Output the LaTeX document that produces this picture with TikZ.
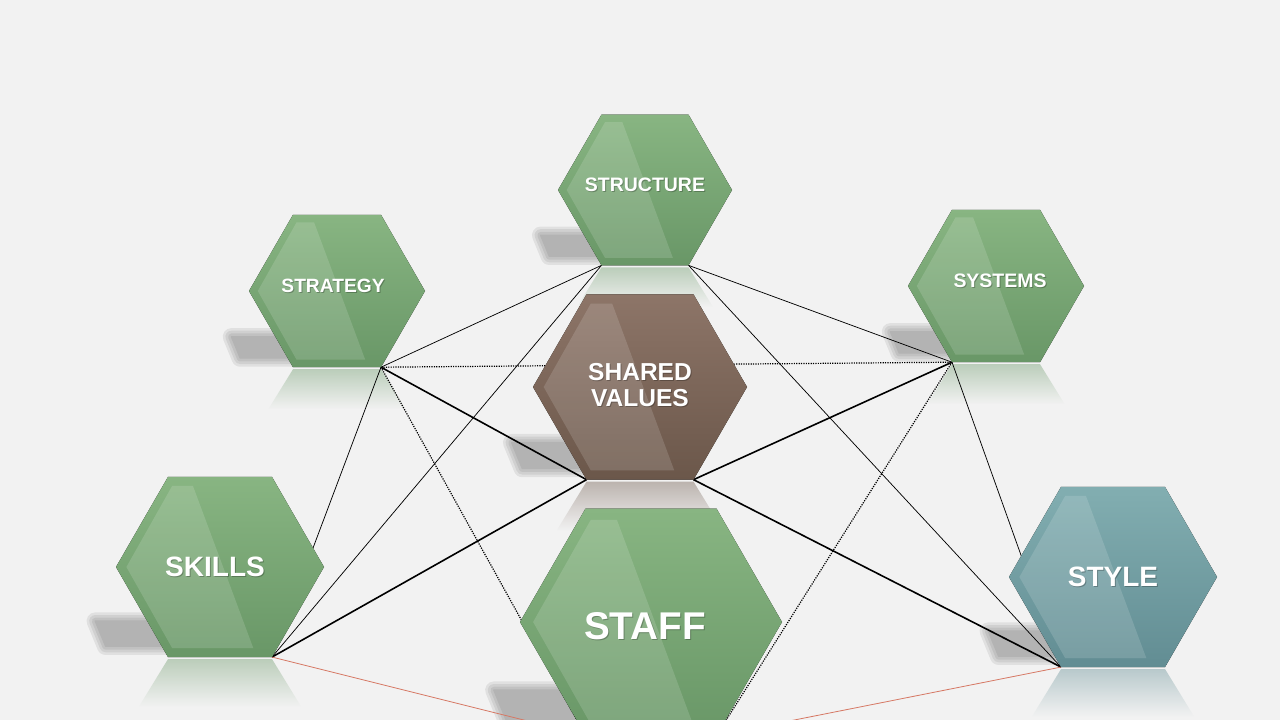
\documentclass[tikz,border=0pt]{standalone}
\usepackage{fontspec}
\setmainfont{Liberation Sans}
\usetikzlibrary{calc,fadings}
\definecolor{bg}{HTML}{F2F2F2}
\definecolor{gTop}{HTML}{88B582}
\definecolor{gBot}{HTML}{699767}
\definecolor{bTop}{HTML}{8D7568}
\definecolor{bBot}{HTML}{6B574A}
\definecolor{tTop}{HTML}{82AEB1}
\definecolor{tBot}{HTML}{628D93}
\definecolor{redline}{RGB}{214,120,100}
\tikzset{
  thinline/.style={black, line width=0.55pt},
  thickline/.style={black, line width=1.2pt},
  dotline/.style={black, line width=0.9pt, dash pattern=on 0.9pt off 0.9pt},
  redconn/.style={redline, line width=0.6pt},
  lbl/.style={text=white, align=center, inner sep=0pt, font=\bfseries},
  lblshadow/.style={text=black, opacity=0.25, align=center, inner sep=0pt, font=\bfseries},
}
% coordinates, cast shadow and reflection
\newcommand\hexprep[5]{%
  \pgfmathsetmacro\hh{#4*0.866}\pgfmathsetmacro\hr{#4*0.5}%
  \coordinate (#1-c) at (#2,#3);
  \coordinate (#1-bl) at (#2-\hr,#3+\hh);
  \coordinate (#1-br) at (#2+\hr,#3+\hh);
  \foreach \w in {13,9,5,1}{%
    \begin{scope}[transparency group, opacity=0.07]
    \filldraw[black,line width=\w pt,line join=round]
      (#2-1.2*#4,#3+0.6*\hh) -- (#2-0.5*#4,#3+0.6*\hh) -- (#2-0.4*#4,#3+0.88*\hh) -- (#2-1.1*#4,#3+0.88*\hh) -- cycle;
    \end{scope}}
  \fill[#5, opacity=0.4, path fading=south]
    (#2-\hr,#3+\hh+2) -- (#2+\hr,#3+\hh+2) -- (#2+0.78*#4,#3+1.55*\hh) -- (#2-0.78*#4,#3+1.55*\hh) -- cycle;
}
% hexagon body with label
\newcommand\hexbody[9]{%
  \pgfmathsetmacro\hh{#4*0.866}\pgfmathsetmacro\hr{#4*0.5}%
  \fill[top color=#5Top, bottom color=#5Bot]
    (#2-\hr,#3-\hh) -- (#2+\hr,#3-\hh) -- (#2+#4,#3) -- (#2+\hr,#3+\hh) -- (#2-\hr,#3+\hh) -- (#2-#4,#3) -- cycle;
  \fill[white,opacity=0.14]
    (#2-0.46*#4,#3-0.9*\hh) -- (#2-0.26*#4,#3-0.9*\hh) -- (#2+0.32*#4,#3+0.9*\hh) -- (#2-0.46*#4,#3+0.9*\hh) -- (#2-0.9*#4,#3) -- cycle;
  \node[lblshadow, font=\bfseries#6] at (#2+#9+1,#3+#8+1.2) {#7};
  \node[lbl, font=\bfseries#6] (#1) at (#2+#9,#3+#8) {#7};
}
\begin{document}
\begin{tikzpicture}[x=0.75pt,y=-0.75pt]
\useasboundingbox (0,0) rectangle (1280,720);
\clip (0,0) rectangle (1280,720);
\fill[bg] (0,0) rectangle (1280,720);

\hexprep{stru}{645}{190}{87}{gBot}
\hexprep{strat}{337}{291}{88}{gBot}
\hexprep{sys}{996}{286}{88}{gBot}
\hexprep{sv}{640}{387}{107}{bBot}
\hexprep{skills}{220}{567}{104}{gBot}
\hexprep{style}{1113}{577}{104}{tBot}
\hexprep{staff}{651}{622}{131}{gBot}

% connectors
\draw[thinline] (strat-br) -- (stru-bl);
\draw[thinline] (stru-bl) -- (skills-br);
\draw[thinline] (strat-br) -- (skills-br);
\draw[thinline] (stru-br) -- (sys-bl);
\draw[thinline] (stru-br) -- (style-bl);
\draw[thinline] (sys-bl) -- (style-bl);
\draw[thickline] (strat-br) -- (sv-bl);
\draw[thickline] (sv-bl) -- (skills-br);
\draw[thickline] (sv-br) -- (sys-bl);
\draw[thickline] (sv-br) -- (style-bl);
\draw[dotline] (strat-br) -- (sys-bl);
\draw[dotline] (strat-br) -- (staff-bl);
\draw[dotline] (sys-bl) -- (staff-br);
\draw[redconn] (skills-br) -- (staff-bl);
\draw[redconn] (style-bl) -- (staff-br);

\hexbody{structure}{645}{190}{87}{g}{\fontsize{14.6}{16}\selectfont}{STRUCTURE}{-5}{0}
\hexbody{strategy}{337}{291}{88}{g}{\fontsize{14.4}{16}\selectfont}{STRATEGY}{-5}{-4}
\hexbody{systems}{996}{286}{88}{g}{\fontsize{14.6}{16}\selectfont}{SYSTEMS}{-5}{4}
\hexbody{sharedvalues}{640}{387}{107}{b}{\fontsize{18.4}{19.5}\selectfont}{SHARED\\VALUES}{-2}{0}
\hexbody{skillsn}{220}{567}{104}{g}{\fontsize{21}{22}\selectfont}{SKILLS}{0}{-5}
\hexbody{stylen}{1113}{577}{104}{t}{\fontsize{21}{22}\selectfont}{STYLE}{0}{0}
\hexbody{staffn}{651}{622}{131}{g}{\fontsize{29}{30}\selectfont}{STAFF}{4}{-6}
\end{tikzpicture}
\end{document}
